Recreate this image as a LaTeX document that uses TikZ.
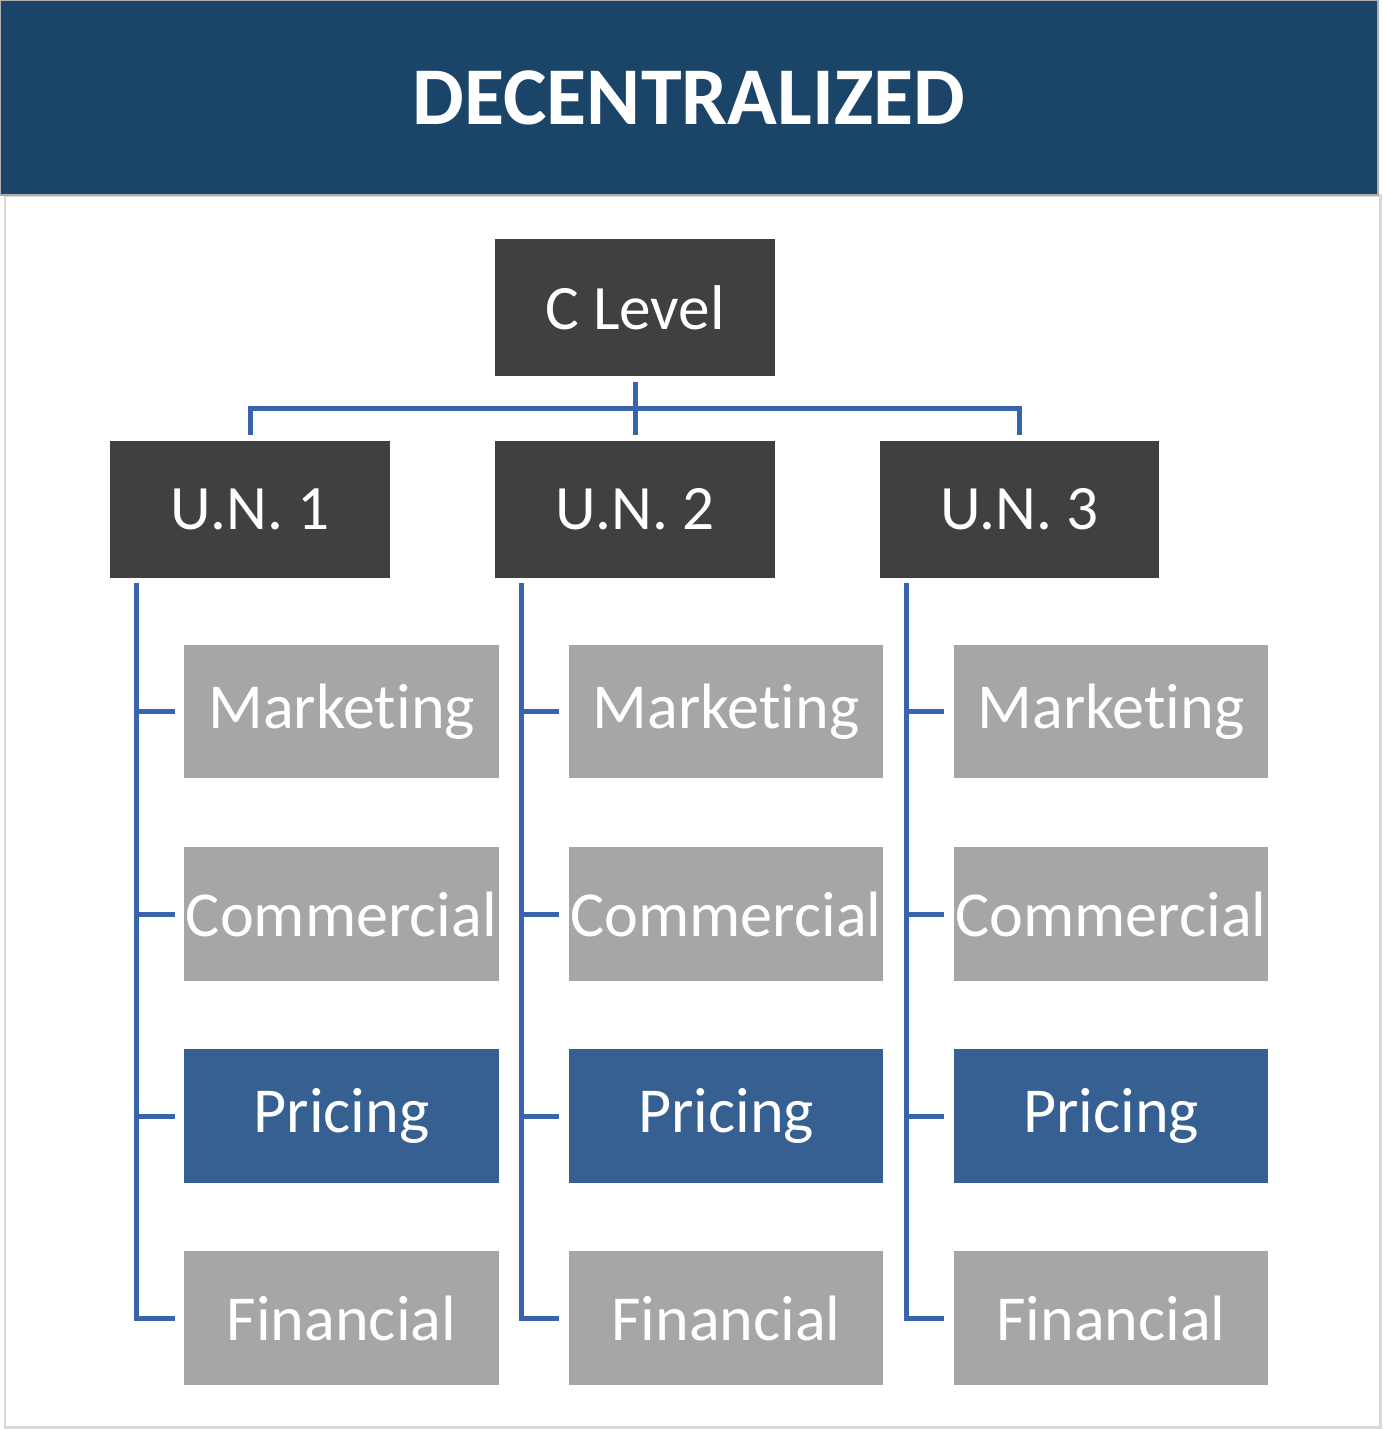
\documentclass[tikz,border=0pt]{standalone}
\usepackage{fontspec}
\setmainfont[Ligatures=NoCommon]{Carlito}
\usepackage{xcolor}
\definecolor{headBlue}{HTML}{1A4468}
\definecolor{linkBlue}{HTML}{3A63AD}
\definecolor{priceBlue}{HTML}{376092}
\definecolor{boxDark}{HTML}{404040}
\definecolor{boxGray}{HTML}{A6A6A6}
\definecolor{frameGray}{HTML}{D9D9D9}
\usetikzlibrary{calc, positioning}
\tikzset{
  unitbox/.style={rectangle, fill=boxDark, text=white, minimum width=5.6cm, minimum height=2.74cm, inner sep=0pt, font=\fontsize{36}{40}\selectfont},
  deptbox/.style={rectangle, fill=boxGray, text=white, minimum width=6.3cm, minimum height=2.68cm, inner sep=0pt, font=\fontsize{36.5}{40}\selectfont},
  pricebox/.style={deptbox, fill=priceBlue},
  link/.style={draw=linkBlue, line width=0.1cm}
}
\begin{document}
\begin{tikzpicture}[x=0.02cm, y=-0.02cm]
  \useasboundingbox (0,0) rectangle (1382,1429);
  % frame and title bar
  \draw[frameGray, line width=0.06cm] (5,196) rectangle (1380,1427);
  \node[rectangle, fill=headBlue, draw=frameGray!80!black, line width=0.04cm, minimum width=27.56cm, minimum height=3.9cm, text=white, font=\fontsize{46.7}{50}\selectfont\bfseries] (title) at (689,97.5) {DECENTRALIZED};
  % top level
  \node[unitbox] (clevel) at (635,307.5) {C Level};
  \foreach \i/\x in {1/250, 2/635, 3/1019.5}
    \node[unitbox] (un\i) at (\x,509.5) {U.N. \i};
  \coordinate (bus) at (635,408);
  \draw[link] ([yshift=-0.12cm]clevel.south) -- ([yshift=0.12cm]un2.north);
  \draw[link] ([yshift=0.12cm]un1.north) |- (bus) -| ([yshift=0.12cm]un3.north);
  % departments of each unit
  \foreach \i/\x in {1/341.5, 2/726, 3/1111} {
    \node[deptbox] (mk\i) at (\x,711.5) {Marketing};
    \node[deptbox] (cm\i) at (\x,914) {Commercial};
    \node[pricebox] (pr\i) at (\x,1116) {Pricing};
    \node[deptbox] (fi\i) at (\x,1318) {Financial};
    \coordinate (top\i) at ($(un\i.south west)+(0.54cm,-0.1cm)$);
    \draw[link] (top\i) |- ([xshift=-0.18cm]fi\i.west);
    \foreach \d in {mk, cm, pr}
      \draw[link] (top\i |- \d\i.west) -- ([xshift=-0.18cm]\d\i.west);
  }
\end{tikzpicture}
\end{document}
